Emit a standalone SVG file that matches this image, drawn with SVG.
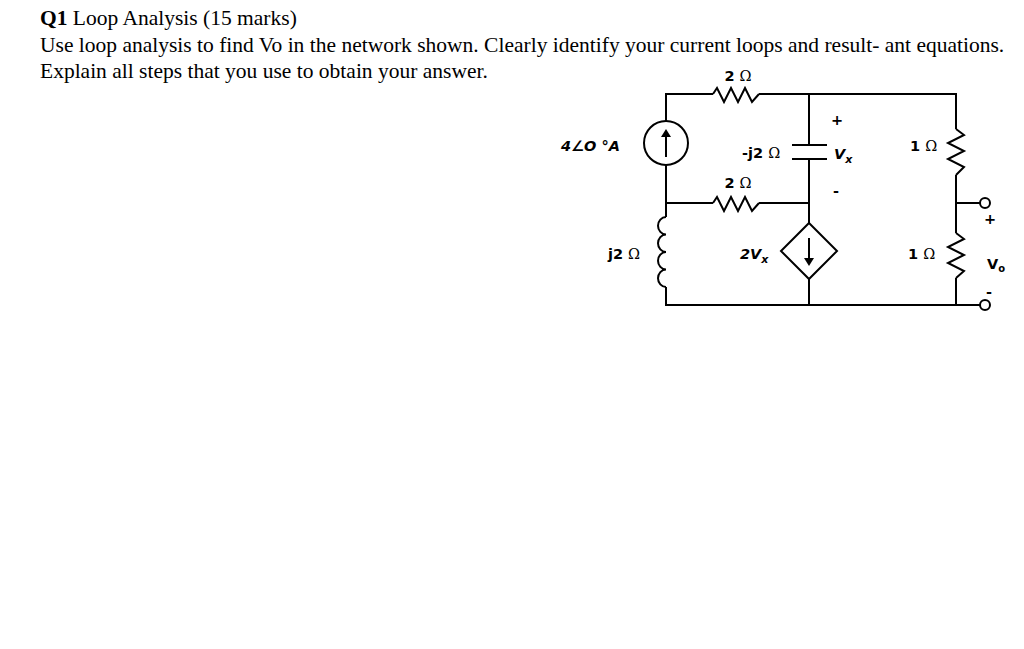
<svg xmlns="http://www.w3.org/2000/svg" width="1024" height="649" viewBox="0 0 1024 649">
<style>
.w{fill:none;stroke:#000;stroke-width:2;stroke-linejoin:miter}
.h{font-family:"Liberation Serif",serif;font-size:21.5px;fill:#000}
.l{font-family:"DejaVu Sans",sans-serif;font-size:14.5px;font-weight:bold;fill:#000}
.o{font-family:"DejaVu Serif",serif;font-size:14.5px;font-weight:normal;fill:#000}
</style>
<defs><marker id="a" markerWidth="8" markerHeight="10" refX="4" refY="5" orient="auto-start-reverse" markerUnits="userSpaceOnUse"><path d="M0,0 L8,5 L0,10 z"/></marker></defs>
<rect width="1024" height="649" fill="#fff"/>
<text class="h" x="40" y="25"><tspan font-weight="bold">Q1</tspan> Loop Analysis (15 marks)</text>
<text class="h" x="40" y="52">Use loop analysis to find Vo in the network shown. Clearly identify your current loops and result- ant equations.</text>
<text class="h" x="40" y="78">Explain all steps that you use to obtain your answer.</text>
<g id="connectors">
<path class="w" d="M666,121 V94 H713 M759,94 H956 V129 M956,175 V233 M956,278 V305 H666 V287 M666,217 V165 M666,203 H713 M759,203 H809 V223 M809,279 V305 M809,94 V145 M809,159 V203 M956,203 H980 M956,305 H980"/>
</g>
<g id="R_top"><path class="w" d="M713,94 L717,88 L724,102 L731,88 L738,102 L745,88 L752,102 L759,94"/><text class="l" x="738" y="81" text-anchor="middle">2 <tspan class="o">Ω</tspan></text></g>
<g id="R_mid"><path class="w" d="M713,203 L717,197 L724,211 L731,197 L738,211 L745,197 L752,211 L759,203"/><text class="l" x="738" y="188" text-anchor="middle">2 <tspan class="o">Ω</tspan></text></g>
<g id="I_src"><circle class="w" cx="666" cy="143" r="22"/><line x1="666" y1="157" x2="666" y2="133" stroke="#000" stroke-width="2" marker-end="url(#a)"/><text class="l" x="561" y="151" font-style="italic">4∠O °A</text></g>
<g id="C"><path class="w" d="M792,145 H827 M792,159 H827"/><text class="l" x="742" y="158">-j2 <tspan class="o">Ω</tspan></text><text class="l" x="834" y="159" font-style="italic">V<tspan font-size="11" dy="4">x</tspan></text><text class="l" x="831" y="125">+</text><text class="l" x="833" y="196">-</text></g>
<g id="R1"><path class="w" d="M956,129 L964,135 L948,143 L964,151 L948,159 L964,167 L956,175"/><text class="l" x="910" y="151">1 <tspan class="o">Ω</tspan></text></g>
<g id="R2"><path class="w" d="M956,233 L964,239 L948,247 L964,255 L948,263 L964,271 L956,278"/><text class="l" x="908" y="259">1 <tspan class="o">Ω</tspan></text></g>
<g id="L"><path class="w" d="M666,217 A8,8.75 0 0 0 666,234.5 A8,8.75 0 0 0 666,252 A8,8.75 0 0 0 666,269.5 A8,8.75 0 0 0 666,287"/><text class="l" x="608" y="259">j2 <tspan class="o">Ω</tspan></text></g>
<g id="Dep"><path class="w" d="M809,223 L837,251 L809,279 L781,251 Z"/><line x1="809" y1="238" x2="809" y2="262" stroke="#000" stroke-width="2" marker-end="url(#a)"/><text class="l" x="740" y="259" font-style="italic">2V<tspan font-size="11" dy="4">x</tspan></text></g>
<g id="Vo"><circle cx="985" cy="203" r="5" fill="#fff" stroke="#000" stroke-width="2"/><circle cx="985" cy="305" r="5" fill="#fff" stroke="#000" stroke-width="2"/><text class="l" x="984" y="224">+</text><text class="l" x="987" y="269">V<tspan font-size="10" dy="3">o</tspan></text><text class="l" x="986" y="297">-</text></g>
</svg>
